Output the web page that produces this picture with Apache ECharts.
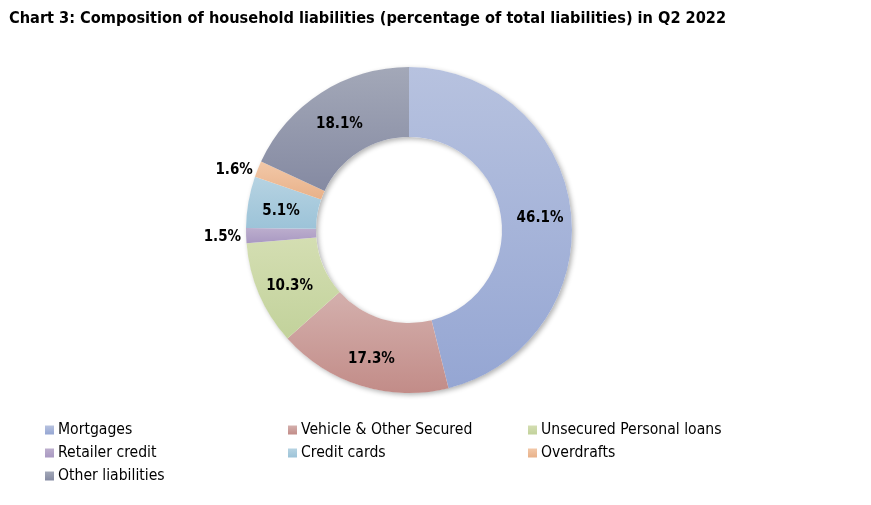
<!DOCTYPE html>
<html>
<head>
<meta charset="utf-8">
<script src="https://cdn.jsdelivr.net/npm/echarts@6/dist/echarts.min.js"></script>
<style>
html, body { margin: 0; padding: 0; background: #fff; }
#chart { width: 871px; height: 505px; }
</style>
</head>
<body>
<div id="chart"></div>
<script>
// data, clockwise from 12 o'clock
var categories = ["Mortgages", "Vehicle & Other Secured", "Unsecured Personal loans",
    "Retailer credit", "Credit cards", "Overdrafts", "Other liabilities"];
var shares = [46.1, 17.3, 10.3, 1.5, 5.1, 1.6, 18.1];

var topColors = ["#b7c2df", "#d4b0ad", "#d4deb2", "#bcaecd", "#b6d3e2", "#f2c8a8", "#a3a8b8"];
var bottomColors = ["#95a6d3", "#c28c88", "#c2d29b", "#a999c2", "#9cc3d8", "#e8b189", "#858aa2"];

var font = "'Liberation Sans Narrow', 'DejaVu Sans Condensed', sans-serif";

var chart = echarts.init(document.getElementById("chart"));

var pieData = categories.map(function (name, i) {
    var item = {
        name: name,
        value: shares[i],
        itemStyle: {
            color: new echarts.graphic.LinearGradient(0, 0, 0, 1, [
                { offset: 0, color: topColors[i] },
                { offset: 1, color: bottomColors[i] }
            ])
        }
    };
    // the two thin slices get their label outside
    if (shares[i] < 2) {
        item.label = { position: "outside", offset: [0, 1] };
        item.labelLine = { show: false, length: 0, length2: 0 };
    }
    return item;
});

var total = shares.reduce(function (a, b) { return a + b; }, 0);

function legendCol(left, names) {
    return {
        orient: "vertical",
        left: left,
        top: 417,
        itemWidth: 9,
        itemHeight: 9,
        itemGap: 7,
        icon: "rect",
        data: names,
        textStyle: { fontFamily: font, fontSize: 15.6, color: "#000", padding: [0, 0, 0, -1] }
    };
}

var option = {
    backgroundColor: "#fff",
    animation: false,
    title: {
        text: "Chart 3: Composition of household liabilities (percentage of total liabilities) in Q2 2022",
        left: 4,
        top: 6,
        textStyle: { fontFamily: font, fontSize: 16.2, fontWeight: "bold", color: "#000" }
    },
    legend: [
        legendCol(40, ["Mortgages", "Retailer credit", "Other liabilities"]),
        legendCol(283, ["Vehicle & Other Secured", "Credit cards"]),
        legendCol(523, ["Unsecured Personal loans", "Overdrafts"])
    ],
    series: [{
        // soft drop shadow under the ring
        type: "pie",
        silent: true,
        z: 1,
        center: [409, 230],
        radius: [93, 163],
        label: { show: false },
        labelLine: { show: false },
        data: [{ name: "", value: total }],
        itemStyle: {
            color: "#ffffff",
            shadowBlur: 5,
            shadowOffsetX: 2,
            shadowOffsetY: 2,
            shadowColor: "rgba(0,0,0,0.3)"
        }
    }, {
        type: "pie",
        z: 2,
        center: [409, 230],
        radius: [93, 163],
        startAngle: 90,
        clockwise: true,
        data: pieData,
        label: {
            position: "inside",
            offset: [1, 4],
            formatter: function (p) { return p.value.toFixed(1) + "%"; },
            fontFamily: font,
            fontSize: 15,
            fontWeight: "bold",
            color: "#000"
        },
        emphasis: { disabled: true }
    }]
};

chart.setOption(option);
</script>
</body>
</html>
